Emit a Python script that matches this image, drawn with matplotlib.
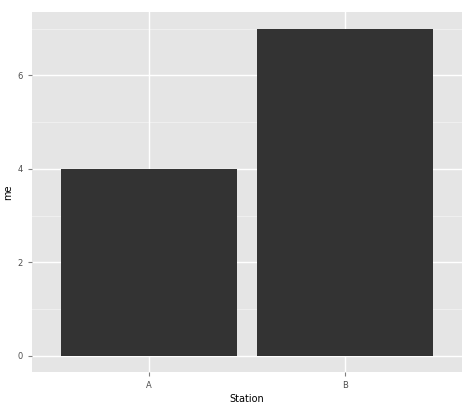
import matplotlib
matplotlib.use("Agg")
import matplotlib.pyplot as plt
import numpy as np

stations = ["A", "B"]
me = [4, 7]

fig = plt.figure(figsize=(4.74, 4.05), dpi=100)
ax = fig.add_axes([0.0675, 0.081, 0.9075, 0.889])
ax.set_facecolor("#e5e5e5")

x = np.arange(len(stations))
ax.set_xlim(-0.6, 1.6)
ax.set_ylim(-0.35, 7.35)

# minor grid lines
for v in np.arange(1, 8, 2):
    ax.axhline(v, color="#f2f2f2", lw=0.6, zorder=0)
ax.set_yticks([0, 2, 4, 6])
ax.set_xticks(x)
ax.set_xticklabels(stations)
ax.grid(True, color="white", lw=1.0, zorder=0)
ax.set_axisbelow(True)

ax.bar(x, me, width=0.9, color="#333333", zorder=2)

for s in ax.spines.values():
    s.set_visible(False)
ax.tick_params(colors="#7f7f7f", labelsize=6, length=3, labelcolor="#4d4d4d")
ax.set_xlabel("Station", fontsize=7, labelpad=3)
ax.set_ylabel("me", fontsize=7, labelpad=3)

fig.savefig("out.png", dpi=100)
